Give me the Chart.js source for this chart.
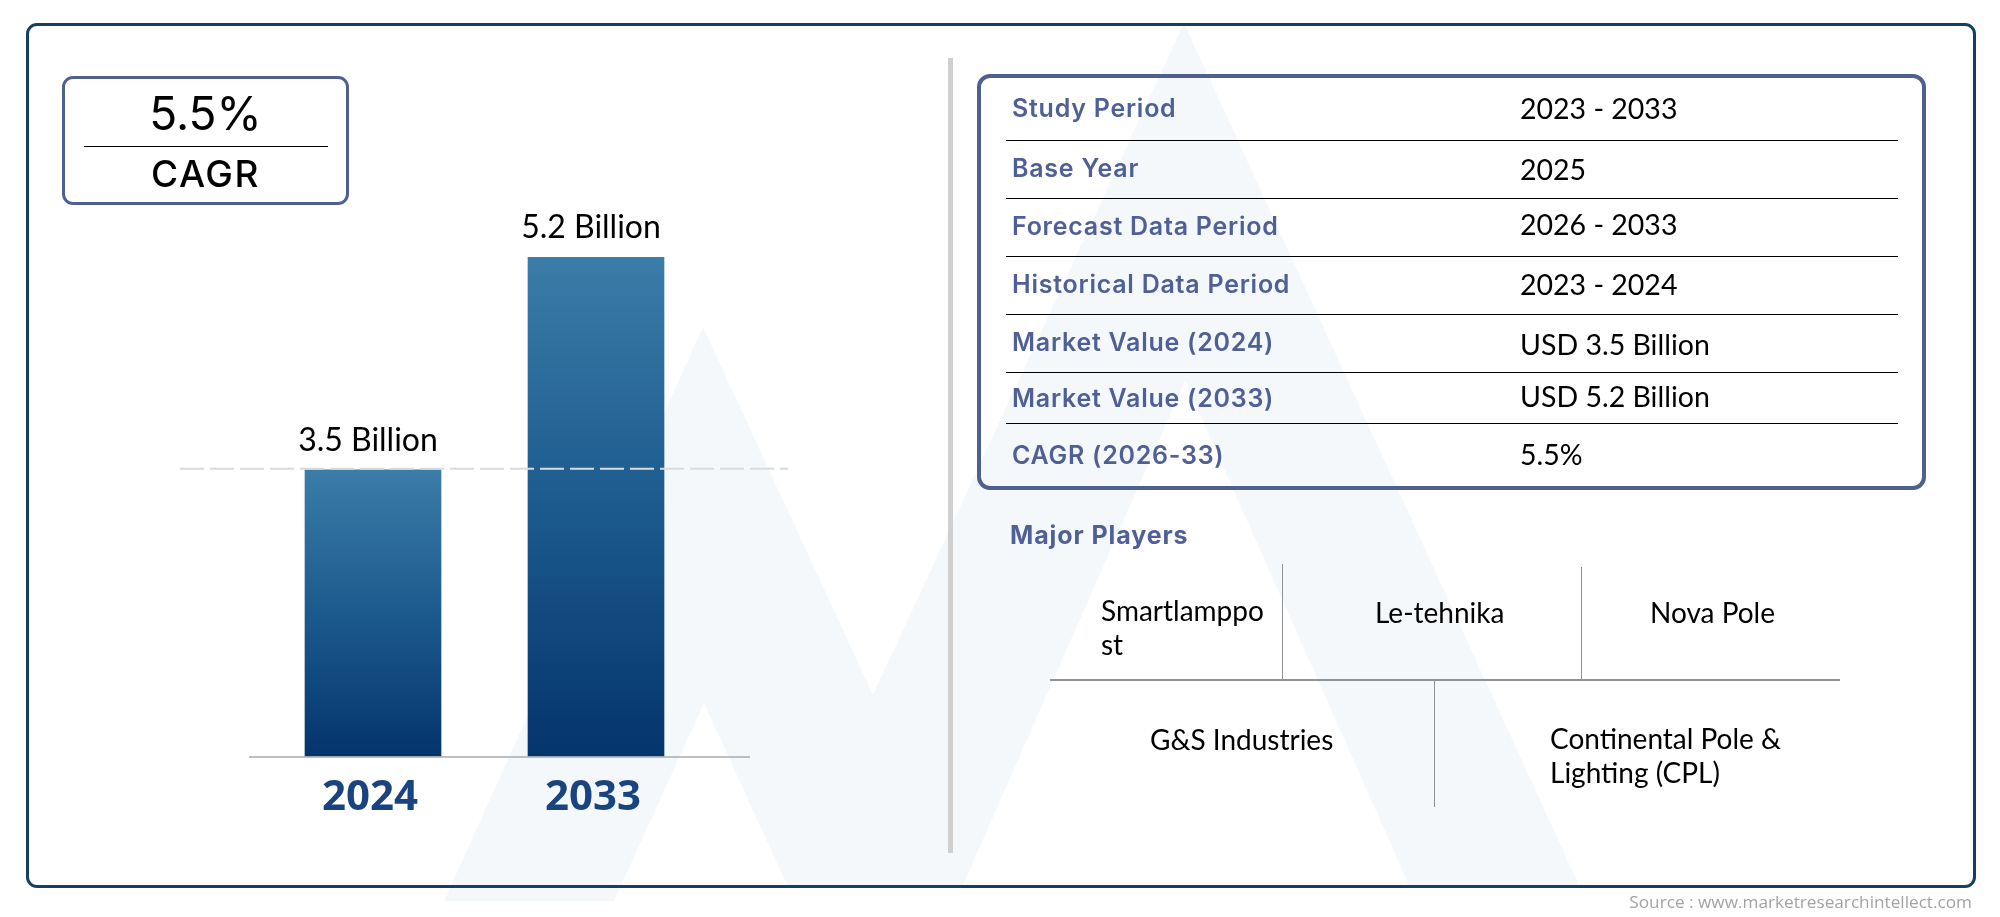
<!DOCTYPE html>
<html>
<head>
<meta charset="utf-8">
<title>Market overview</title>
<script src="https://cdn.jsdelivr.net/npm/chart.js@4"></script>
<style>
  html, body { margin: 0; padding: 0; background: #fff; }
  #page { position: relative; width: 2000px; height: 917px; overflow: hidden; background: #fff; }
  #page > * { position: absolute; }
  #mark, #chart { left: 0; top: 0; }
  .frame { left: 26px; top: 23px; width: 1944px; height: 859px; border: 3px solid #15405e; border-radius: 11px; }
  .box { border: 3px solid #4f6090; border-radius: 11px; box-sizing: border-box; }
  .rule { background: #000; height: 1.2px; }
  .vline { background: #8f9296; width: 1px; }
  .txt { white-space: nowrap; transform: translateY(-50%); line-height: 31px; color: #000; }
  .label { font: 600 25px Inter; color: #4f6096; letter-spacing: 0.75px; }
  .value { font: 400 28.5px Lato; }
  .player { font: 400 28px Lato; }
</style>
</head>
<body>
<div id="page">
  <svg id="mark" width="2000" height="917">
    <polygon fill="#f5f8fb" points="444,901 703,327 873,695 1184,23 1579,885 1409,885 1185,381 963,885 787,885 704,703 614,901"/>
  </svg>
  <div class="frame"></div>
  <canvas id="chart" width="2000" height="917"></canvas>

  <div class="box" style="left:62px;top:76px;width:287px;height:129px"></div>
  <div class="txt" style="left:62px;width:287px;top:113px;text-align:center;font:400 46px Inter;line-height:50px">5.5%</div>
  <div class="rule" style="left:84px;top:146px;width:244px"></div>
  <div class="txt" style="left:62px;width:287px;top:174px;text-align:center;font:500 37px Inter;line-height:40px;letter-spacing:1.5px">CAGR</div>

  <div style="left:948px;top:58px;width:5px;height:795px;background:#cfcfcf"></div>
  <div class="box" style="left:977px;top:74px;width:949px;height:416px;border-width:4px;border-radius:13px"></div>
  <div id="table"></div>

  <div class="txt label" style="left:1010px;top:535px;font-weight:700;letter-spacing:0.9px">Major Players</div>
  <div class="vline" style="left:1282px;top:564px;height:116px"></div>
  <div class="vline" style="left:1581px;top:567px;height:113px"></div>
  <div class="vline" style="left:1434px;top:680px;height:127px"></div>
  <div class="vline" style="left:1050px;top:679px;width:790px;height:1.5px"></div>
  <div id="players"></div>

  <div class="txt" style="right:28px;top:902px;font:500 17.2px 'Open Sans';color:#a3a3a3;line-height:20px">Source : www.marketresearchintellect.com</div>
</div>

<script>
const categories = ["2024", "2033"];
const marketValues = [3.5, 5.2];
const valueUnit = "Billion";
const referenceValue = 3.5;
// bars in the picture do not start at zero, this floor reproduces their heights
const yFloor = 1.21;

const tableLabels = ["Study Period", "Base Year", "Forecast Data Period", "Historical Data Period", "Market Value (2024)", "Market Value (2033)", "CAGR (2026-33)"];
const tableValues = ["2023 - 2033", "2025", "2026 - 2033", "2023 - 2024", "USD 3.5 Billion", "USD 5.2 Billion", "5.5%"];
const playerNames = ["Smartlamppo<br>st", "Le-tehnika", "Nova Pole", "G&amp;S Industries", "Continental Pole &amp;<br>Lighting (CPL)"];

// layout of the html panels
const labelRows = [108, 168, 226, 284, 342, 398, 455];
const valueRows = [108, 169, 224, 284, 344, 396, 454];
const ruleRows = [140, 198, 256, 314, 372, 423];
const playerSpots = [[1101, 627], [1375, 612], [1650, 612], [1150, 739], [1550, 755]];

function add(parent, cls, css, html) {
  const el = document.createElement("div");
  el.className = cls;
  el.style.cssText = "position:absolute;" + css;
  el.innerHTML = html;
  parent.appendChild(el);
}

const table = document.getElementById("table");
tableLabels.forEach((t, i) => add(table, "txt label", `left:1012px;top:${labelRows[i]}px`, t));
tableValues.forEach((t, i) => add(table, "txt value", `left:1520px;top:${valueRows[i]}px`, t));
ruleRows.forEach((y) => add(table, "rule", `left:1006px;top:${y}px;width:892px`, ""));

const players = document.getElementById("players");
playerNames.forEach((t, i) => add(players, "txt player", `left:${playerSpots[i][0]}px;top:${playerSpots[i][1]}px`, t));

function barGradient(ctx) {
  const { chart, parsed } = ctx;
  if (!parsed || !chart.chartArea) return "#1c5a8c";
  const y = chart.scales.y;
  const g = chart.ctx.createLinearGradient(0, y.getPixelForValue(parsed.y), 0, y.bottom);
  g.addColorStop(0, "#3b7ca9");
  g.addColorStop(0.5, "#1c5a8d");
  g.addColorStop(1, "#04346c");
  return g;
}

const guides = {
  id: "guides",
  afterDatasetsDraw(chart) {
    const { ctx, scales } = chart;
    const base = scales.y.bottom;
    const refY = scales.y.getPixelForValue(referenceValue);
    ctx.save();
    ctx.strokeStyle = "#a6abb0";
    ctx.lineWidth = 1.5;
    ctx.beginPath();
    ctx.moveTo(249, base + 0.5);
    ctx.lineTo(750, base + 0.5);
    ctx.stroke();

    ctx.strokeStyle = "#d9dcdf";
    ctx.lineWidth = 2;
    ctx.setLineDash([24, 6]);
    ctx.beginPath();
    ctx.moveTo(180, refY - 1);
    ctx.lineTo(788, refY - 1);
    ctx.stroke();
    ctx.setLineDash([]);

    ctx.fillStyle = "#000";
    ctx.font = "400 32px Lato";
    ctx.textAlign = "center";
    ctx.textBaseline = "bottom";
    chart.getDatasetMeta(0).data.forEach((bar, i) => {
      ctx.fillText(`${marketValues[i]} ${valueUnit}`, bar.x - 5, bar.y - 13);
    });
    ctx.restore();
  },
};

new Chart(document.getElementById("chart"), {
  type: "bar",
  data: {
    labels: categories,
    datasets: [{ data: marketValues, backgroundColor: barGradient, barThickness: 136 }],
  },
  options: {
    responsive: false,
    animation: false,
    layout: { padding: { left: 261.5, right: 1292.5, top: 257, bottom: 86 } },
    plugins: { legend: { display: false }, tooltip: { enabled: false } },
    scales: {
      y: { display: false, min: yFloor, max: 5.2 },
      x: {
        grid: { display: false },
        border: { display: false },
        ticks: { color: "#1a4480", padding: 8, labelOffset: -3, maxRotation: 0, font: { family: "Open Sans", size: 42, weight: "700" } },
      },
    },
  },
  plugins: [guides],
});
</script>
</body>
</html>
